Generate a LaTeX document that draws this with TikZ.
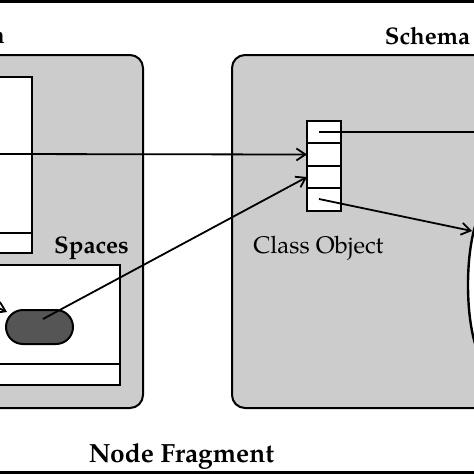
\documentclass[tikz,border=0pt]{standalone}
\usepackage{fontspec}
\setmainfont{TeX Gyre Pagella}
\usetikzlibrary{arrows.meta}
\definecolor{panel}{RGB}{204,204,204}
\definecolor{pillgray}{RGB}{85,85,85}
\tikzset{
  frameline/.style={line width=3pt},
  panelbox/.style={draw, line width=2pt, fill=panel, rounded corners=13pt},
  whitebox/.style={draw, line width=2pt, fill=white},
  cell/.style={draw, line width=1.9pt, fill=white, minimum width=34pt, minimum height=22.5pt, inner sep=0pt, outer sep=0pt},
  conn/.style={line width=1.8pt},
  arr/.style={conn, -{Straight Barb[length=9pt,width=12pt,line width=1.8pt]}},
  boldlabel/.style={font=\fontsize{24}{28}\selectfont\bfseries, inner sep=0pt},
  biglabel/.style={font=\fontsize{26.3}{30}\selectfont\bfseries, inner sep=0pt},
  plainlabel/.style={font=\fontsize{24}{28}\selectfont, inner sep=0pt},
}
\begin{document}
\begin{tikzpicture}[x=1pt,y=-1pt]
\useasboundingbox (0,0) rectangle (474,474);
\clip (0,0) rectangle (474,474);
\fill[white] (0,0) rectangle (474,474);
% frame lines
\draw[frameline] (-5,1) -- (480,1);
\draw[frameline] (-5,472.5) -- (480,472.5);
% left panel
\draw[panelbox] (-20,55) rectangle (143,408);
\draw[whitebox] (-10,77) rectangle (32,253);
\draw[line width=2pt] (-10,233) -- (32,233);
\draw[whitebox] (-10,265) rectangle (120,385);
\draw[line width=2pt] (-10,364) -- (120,364);
% right panel
\draw[panelbox] (232,55) rectangle (520,408);
\draw[line width=2.4pt, fill=white] (490,285) ellipse [x radius=22, y radius=80];
% labels
\node[boldlabel, anchor=base east] (lt) at (5,43) {n};
\node[boldlabel, anchor=base] (sch) at (427.5,44) {Schema};
\node[boldlabel, anchor=base] (spc) at (91.5,253) {Spaces};
\node[plainlabel, anchor=base] (col) at (318.5,253) {Class Object};
\node[biglabel, anchor=base] (nf) at (181.5,462) {Node Fragment};
% class object cells
\node[cell] (c1) at (324,132) {};
\node[cell] (c2) at (324,154.5) {};
\node[cell] (c3) at (324,177) {};
\node[cell] (c4) at (324,199.5) {};
% pill
\node[draw, line width=2pt, fill=pillgray, minimum width=67pt, minimum height=34pt, rounded corners=17pt, inner sep=0pt] (pill) at (39.5,327) {};
% connector anchors
\coordinate (lin) at (-5,154);
\coordinate (pd) at (43,319);
\coordinate (c1d) at (319,132);
\coordinate (c4d) at (319,199);
\coordinate (rout) at (490,132);
\coordinate (ell) at (472,231);
\coordinate (tin) at (-25,297);
\coordinate (tend) at (7,312);
% connectors
\draw[arr] (lin) -- (c2.west);
\draw[arr] (pd) -- (c3.west);
\draw[conn] (c1d) -- (rout);
\draw[arr] (c4d) -- (ell);
\draw[arr] (tin) -- (tend);
\end{tikzpicture}
\end{document}
